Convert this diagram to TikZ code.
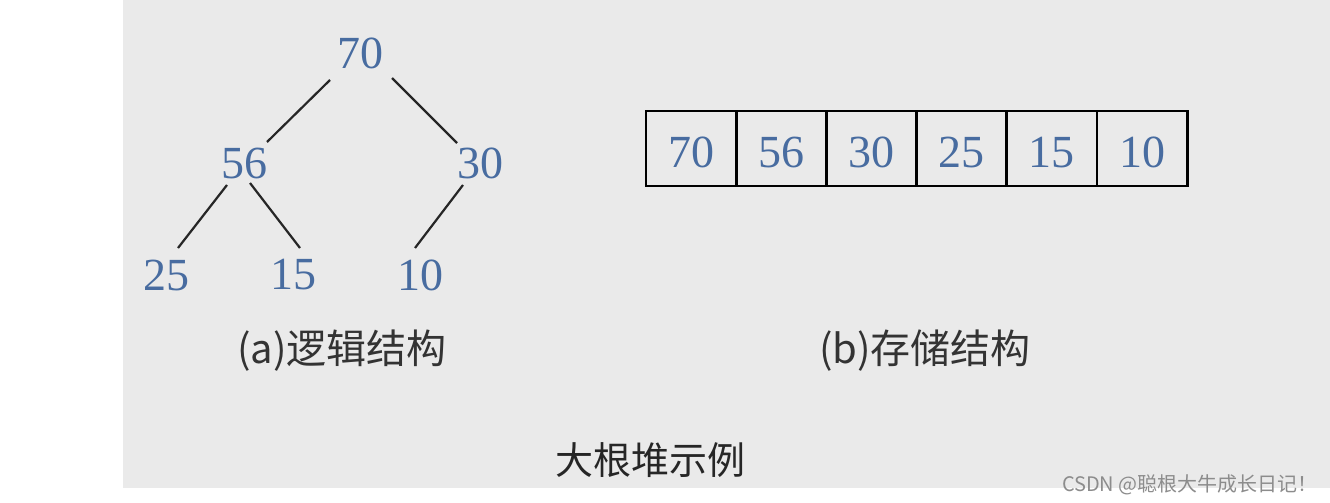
\documentclass[tikz,border=0pt]{standalone}
\usepackage{fontspec}
\setmainfont{Liberation Serif}
\newfontfamily\cjk{Noto Sans CJK SC}
\usepackage{tikz}
\usetikzlibrary{positioning}
\definecolor{numblue}{RGB}{72,108,160}
\definecolor{bggray}{RGB}{234,234,234}
\tikzstyle{num} = [text=numblue, font=\fontsize{46}{46}\selectfont, inner sep=0pt]
\tikzstyle{cell} = [rectangle, draw=black, line width=2.8pt, minimum width=90.2pt, minimum height=75pt, inner sep=0pt, outer sep=0pt, text height=38pt, text depth=0pt, text=numblue, font=\fontsize{46}{46}\selectfont]
\tikzstyle{caption} = [text=black!80, inner sep=0pt, font=\cjk\fontsize{40}{40}\selectfont]
\tikzstyle{edge} = [line width=2.2pt, draw=black!85]

\begin{document}
\begin{tikzpicture}[x=1pt, y=1pt]
\useasboundingbox (0,0) rectangle (1330,-503);
\fill [bggray] (123,0) rectangle (1330,-488);

% (a) tree
\node (n70) [num] at (360,-53) {70};
\node (n56) [num] at (244,-163) {56};
\node (n30) [num] at (480,-163) {30};
\node (n25) [num] at (166,-275) {25};
\node (n15) [num] at (293,-275) {15};
\node (n10) [num] at (420,-275) {10};

\draw [edge] ([shift={(-30,-27)}]n70.center) -- ([shift={(23,21)}]n56.center);
\draw [edge] ([shift={(32,-25)}]n70.center) -- ([shift={(-23,20)}]n30.center);
\draw [edge] ([shift={(-17,-22)}]n56.center) -- ([shift={(12,27)}]n25.center);
\draw [edge] ([shift={(6,-20)}]n56.center) -- ([shift={(7,27)}]n15.center);
\draw [edge] ([shift={(-17,-22)}]n30.center) -- ([shift={(-5,27)}]n10.center);

\node (capa) [caption] at (342,-351) {(a)逻辑结构};

% (b) array
\node (c1) [cell] at (691.1,-148.5) {70};
\node (c2) [cell, right=0pt of c1] {56};
\node (c3) [cell, right=0pt of c2] {30};
\node (c4) [cell, right=0pt of c3] {25};
\node (c5) [cell, right=0pt of c4] {15};
\node (c6) [cell, right=0pt of c5] {10};

\node (capb) [caption] at (925,-351) {(b)存储结构};

\node (title) [caption, text=black!85, font=\cjk\fontsize{38}{38}\selectfont] at (650,-460) {大根堆示例};
\node (mark) [text=black!45, inner sep=0pt, font=\cjk\fontsize{20}{20}\selectfont, anchor=east] at (1318,-485) {CSDN @聪根大牛成长日记！};
\end{tikzpicture}
\end{document}
